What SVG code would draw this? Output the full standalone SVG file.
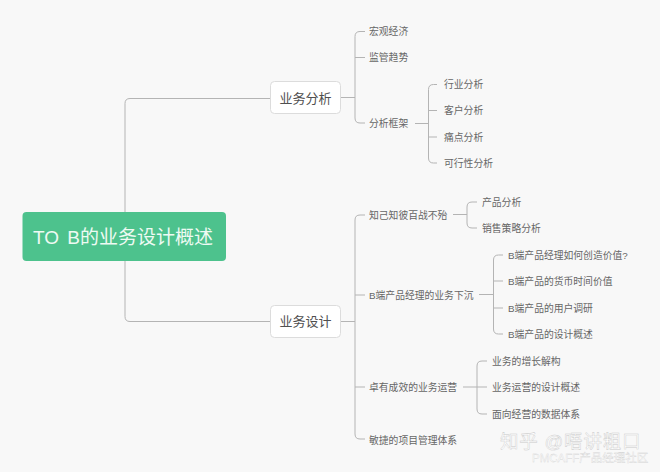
<svg xmlns="http://www.w3.org/2000/svg" width="660" height="472" viewBox="0 0 660 472">
<style>
text{font-family:"Liberation Sans","Noto Sans CJK SC",sans-serif;dominant-baseline:central}
.c{fill:none;stroke:#b4b4b4;stroke-width:1}
.l{font-size:9.8px;fill:#666}
.m{font-size:13px;fill:#4f4f4f;text-anchor:middle}
.b{fill:#fff;stroke:#dcdcdc;stroke-width:1}
</style>
<rect width="660" height="472" fill="#f8f8f8"/>
<g id="connectors" class="c">
<path d="M125 212V103.500Q125 98.500 130 98.500H271"/>
<path d="M125 261V316.500Q125 321.500 130 321.500H271"/>
<path d="M340 97.500H355M365 31.500H360Q355 31.500 355 36.500V118Q355 123 360 123H365M355 57.500H365"/>
<path d="M415 123.500H428.500M437 84.500H433.500Q428.500 84.500 428.500 89.500V158Q428.500 163 433.500 163H437M428.500 110.500H437M428.500 137H437"/>
<path d="M340 321.500H355M365 215H360Q355 215 355 220V434Q355 439 360 439H365M355 295H365M355 387H365"/>
<path d="M453 214.500H467M477 202H472Q467 202 467 207V223Q467 228 472 228H477"/>
<path d="M479 294.500H493.500M503 255H498.500Q493.500 255 493.500 260V329Q493.500 334 498.500 334H503M493.500 281H503M493.500 308H503"/>
<path d="M463 387H477M487 361H482Q477 361 477 366V409Q477 414 482 414H487M477 387H487"/>
</g>
<g id="root"><rect x="22.500" y="212" width="203.500" height="49" rx="4" fill="#4dc28d"/><text x="33" y="237" font-size="19" fill="#eefaf3" word-spacing="3">TO B的业务设计概述</text></g>
<g id="n1"><rect class="b" x="270.500" y="81.500" width="70" height="32" rx="4"/><text class="m" x="305.500" y="98">业务分析</text></g>
<g id="n2"><rect class="b" x="270.500" y="305.500" width="70" height="32" rx="4"/><text class="m" x="305.500" y="321.500">业务设计</text></g>
<g id="n11"><text class="l" x="369" y="31">宏观经济</text></g>
<g id="n12"><text class="l" x="369" y="57.500">监管趋势</text></g>
<g id="n13"><text class="l" x="369" y="123.500">分析框架</text></g>
<g id="n131"><text class="l" x="444" y="84.500">行业分析</text></g>
<g id="n132"><text class="l" x="444" y="110.500">客户分析</text></g>
<g id="n133"><text class="l" x="444" y="137">痛点分析</text></g>
<g id="n134"><text class="l" x="444" y="163.500">可行性分析</text></g>
<g id="n21"><text class="l" x="369" y="215">知己知彼百战不殆</text></g>
<g id="n211"><text class="l" x="482" y="202">产品分析</text></g>
<g id="n212"><text class="l" x="482" y="228.500">销售策略分析</text></g>
<g id="n22"><text class="l" x="369" y="295">B端产品经理的业务下沉</text></g>
<g id="n221"><text class="l" x="508" y="255">B端产品经理如何创造价值?</text></g>
<g id="n222"><text class="l" x="508" y="281.500">B端产品的货币时间价值</text></g>
<g id="n223"><text class="l" x="508" y="308">B端产品的用户调研</text></g>
<g id="n224"><text class="l" x="508" y="334.500">B端产品的设计概述</text></g>
<g id="n23"><text class="l" x="369" y="387">卓有成效的业务运营</text></g>
<g id="n231"><text class="l" x="492" y="361">业务的增长解构</text></g>
<g id="n232"><text class="l" x="492" y="387.500">业务运营的设计概述</text></g>
<g id="n233"><text class="l" x="492" y="414">面向经营的数据体系</text></g>
<g id="n24"><text class="l" x="369" y="440">敏捷的项目管理体系</text></g>
<g id="watermark"><text x="500" y="441" font-size="18.500" fill="#fff" stroke="#c8c8c8" stroke-width="0.400" letter-spacing="0.800">知乎 @唔讲粗口</text><text x="532" y="458" font-size="11.500" fill="#fff" stroke="#d0d0d0" stroke-width="0.300">PMCAFF产品经理社区</text></g>
</svg>
